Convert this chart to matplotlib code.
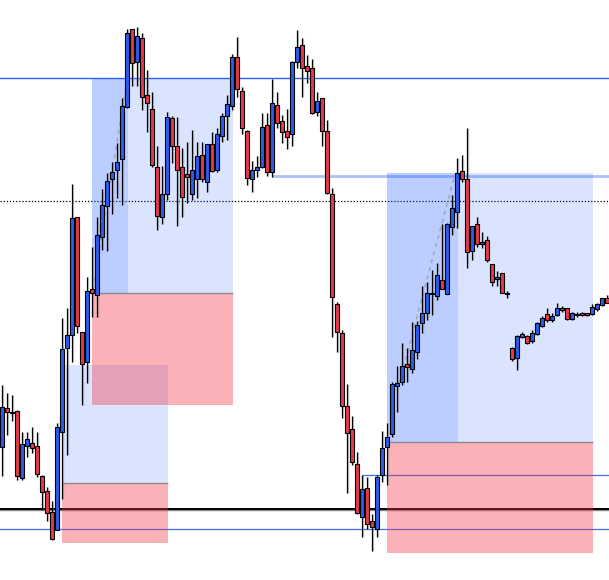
import matplotlib.pyplot as plt
from matplotlib.patches import Rectangle
import numpy as np

# candle prices (arbitrary units)
opens = [
    133.3, 172.5, 167, 169, 101.7, 134, 136.7, 134, 104, 89,
    67.7, 50, 148.3, 231.7, 245, 362.7, 247.7, 218, 290.7, 285,
    342.7, 374.3, 401, 410, 420.7, 472.7, 550.7, 518.3, 541.7, 484.7,
    471, 413.3, 362.7, 385.7, 462.3, 434.3, 412.7, 406, 386, 401,
    425, 397.7, 435.7, 410, 444.3, 464, 474.3, 522.7, 489, 449.3,
    401, 410, 413.3, 455, 407.7, 474.7, 459, 449.3, 445.7, 518.3,
    535, 514, 512.3, 467.7, 481.7, 449.3, 385.7, 275.7, 247.3, 174,
    150.7, 116, 63.3, 91.7, 59.3, 50.7, 105, 132.7, 146, 194.3,
    197.7, 215.7, 210.7, 227.7, 257.3, 266.7, 286, 284.3, 299.7, 285.7,
    352.7, 367.7, 409, 401, 329, 356, 335.7, 340, 315.7, 301,
    306.7, 286.7, 231.7, 221.7, 242.7, 244.3, 239, 245.7, 254.3, 265.7,
    260, 265, 271.7, 271.7, 260.7, 265.7, 266.7, 266.7, 266, 271,
    275, 281.7,
]
highs = [
    195, 187, 185, 170, 148.3, 148.3, 152.7, 148.3, 105, 93.3,
    79.3, 157.3, 261.7, 271.7, 395.7, 363, 248, 303.3, 333.3, 363.3,
    390.7, 407.3, 418.3, 437, 481.7, 550.7, 551, 553.3, 546.7, 510,
    488, 434.3, 414, 468, 464, 463.3, 432.3, 438, 450, 438,
    438, 436, 447.7, 451.7, 467.3, 485, 526, 542.7, 493.3, 450,
    419.3, 424.3, 466.7, 466.7, 501, 487.7, 465, 471, 519, 550.5,
    541.7, 525, 520.7, 488.3, 482, 460, 391.7, 278.3, 250, 196,
    163.7, 128.3, 105, 103.3, 66, 105, 149, 156.7, 198.3, 214,
    236.7, 232.3, 258, 259, 294.3, 298.3, 310, 317.3, 355.7, 356.7,
    385, 422.3, 425, 451.7, 354, 362.7, 347.7, 344, 316, 309,
    307, 289.3, 233.3, 245, 248.3, 245, 250, 258.3, 264, 271.7,
    266.7, 276.7, 274, 272.5, 268.3, 268.3, 267.7, 267.5, 276, 277.3,
    282.5, 285,
]
lows = [
    104, 145, 159.5, 100, 100, 123, 126.7, 102.7, 70, 59,
    40.5, 50, 80.7, 125, 218.3, 247.3, 175, 196.7, 263.3, 263.3,
    330, 329, 366, 382, 375, 472, 494, 494, 470, 448.3,
    413, 350, 356, 380, 416.7, 354.5, 363.3, 377.3, 380, 382,
    398, 388.3, 407.7, 408.3, 438.3, 440, 470, 483.3, 446, 395,
    388.3, 403.3, 412, 404.3, 403.3, 452.3, 436.7, 431, 434.3, 511.7,
    483.3, 496.7, 466, 464, 434, 386, 243.3, 228.3, 162, 87.5,
    115, 66, 43, 51, 29.5, 43.3, 98.3, 95, 143, 168.3,
    195, 198.3, 207, 221, 246.7, 260, 265, 280, 290.7, 285.7,
    345, 352.3, 398.3, 311.7, 320, 332.7, 331.7, 318.3, 294.3, 294.3,
    287.3, 281.7, 219.3, 210, 241.7, 236.5, 236.7, 245, 253.3, 258.3,
    258.3, 264, 267.7, 260, 260, 262.7, 264, 264, 265, 269,
    274, 277,
]
closes = [
    173.3, 168, 167.7, 104.3, 136, 141, 131.7, 106, 88.3, 66.7,
    40.7, 153.3, 230.7, 244.7, 362.3, 254, 215.7, 289, 286.7, 345,
    375, 399, 408.5, 418.3, 474.3, 547.5, 516.7, 544, 482.7, 477.3,
    415, 364.3, 386, 463.3, 434.5, 410, 383.3, 403.5, 409.7, 424,
    401, 435.7, 409.3, 445.7, 464, 475.7, 522.7, 491, 452.3, 401.7,
    410, 412.7, 453.3, 407.7, 476.7, 457.3, 447.7, 442.7, 518.3, 533.3,
    512.3, 509.3, 466.7, 479.3, 449, 387.3, 282.7, 247.7, 174.3, 146.7,
    118.3, 66.7, 90.7, 55.7, 52.7, 102.7, 131.7, 142.7, 195.7, 197.3,
    214, 212.7, 230, 255, 266.7, 286.7, 287.3, 305, 290.7, 356,
    371.7, 407.3, 400.7, 327.7, 354, 335.7, 338.3, 320, 298.3, 303.3,
    287.3, 286.5, 221, 244, 246, 236.7, 246.7, 257.3, 261.7, 260,
    264, 271.7, 270, 260.7, 267.3, 265.5, 265, 264.7, 272.7, 275.7,
    281.7, 277.3,
]

# horizontal levels
level_top = 502
level_dotted = 379
level_light = 404
level_light_start = 54
level_black = 71
level_low = 51
level_mid = 105
level_mid_start = 72

# long position tools: start bar, end bar, filled-until bar, entry, target, stop
pos_a = [18.0, 46.2, 25.2, 287, 502, 175]
pos_b = [12.0, 33.2, None, 97, 215, 37]
pos_c = [77.0, 118.2, 91.2, 138, 407, 27]

# trade path (dashed) for the two filled positions: bars, prices
path_a = ([18.2, 25.0], [290, 500])
path_c = ([79.0, 90.6], [188, 406])

BLUE = "#2962ff"
RED = "#f23645"
UP = "#2a5cf0"
DOWN = "#e8394a"

fig = plt.figure(figsize=(6.09, 5.80), dpi=100)
ax = fig.add_axes([0, 0, 1, 1])
ax.set_xlim(-0.4, 121.4)
ax.set_ylim(0, 580)
ax.axis("off")

# lines (sit under the boxes)
ax.axhline(level_top, color=BLUE, lw=1.0, zorder=1)
ax.axhline(level_dotted, color="black", lw=0.9, ls=(0, (1, 1.5)), zorder=1)
ax.hlines(level_light, level_light_start, 121.4, color="#a9c1fb", lw=2.0, zorder=1)
ax.axhline(level_black - 0.8, color="#888888", lw=1.0, zorder=1)
ax.axhline(level_black, color="black", lw=1.4, zorder=1)
ax.axhline(level_low, color="#3f6fe8", lw=0.9, zorder=1)
ax.hlines(level_mid, level_mid_start, 121.4, color="#3f6fe8", lw=0.9, zorder=1)


def draw_position(pos, z):
    x0, x1, xfill, entry, target, stop = pos
    w = x1 - x0
    ax.add_patch(Rectangle((x0, entry), w, target - entry, color=BLUE, alpha=0.17, lw=0, zorder=z))
    if xfill is not None:
        ax.add_patch(Rectangle((x0, entry), xfill - x0, target - entry, color=BLUE, alpha=0.17, lw=0, zorder=z))
    ax.add_patch(Rectangle((x0, stop), w, entry - stop, color=RED, alpha=0.38, lw=0, zorder=z))
    ax.hlines(entry, x0, x1, color="#7a7a86", lw=1.0, alpha=0.8, zorder=z)


draw_position(pos_b, 2)
draw_position(pos_a, 2.1)
draw_position(pos_c, 2)

for px, py in (path_a, path_c):
    ax.plot(px, py, color="#9a9a9a", lw=1.2, ls=(0, (2.5, 2.5)), alpha=0.7, zorder=2.5)

# candles
width = 0.7
for i, (o, h, l, c) in enumerate(zip(opens, highs, lows, closes)):
    color = UP if c >= o else DOWN
    bottom = min(o, c)
    height = max(abs(c - o), 1.0)
    # soft grey shadow
    ax.vlines(i + 0.2, l, h, color="#8c8c8c", lw=1.0, alpha=0.45, zorder=3)
    ax.add_patch(Rectangle((i - width / 2 + 0.2, bottom - 0.6), width, height + 0.6,
                           facecolor="#8c8c8c", edgecolor="none", alpha=0.45, zorder=3))
    ax.vlines(i, l, h, color="black", lw=0.9, zorder=4)
    ax.add_patch(Rectangle((i - width / 2, bottom), width, height,
                           facecolor=color, edgecolor="black", lw=0.8, zorder=5))

fig.savefig("out.png", dpi=100)
